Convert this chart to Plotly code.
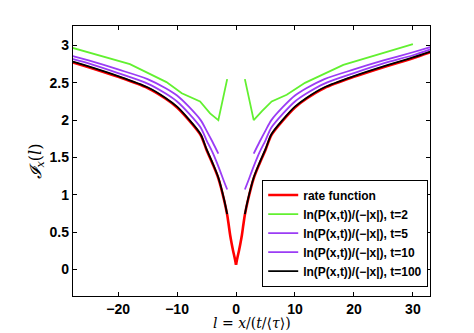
import plotly.graph_objects as go

# Rate function I(l); left and right branches meet in a cusp at l = 0
l_rate_left = [-33, -30, -25, -20, -15, -12, -10, -8, -6, -5, -4, -3, -2, -1.5, -1.25, -1.0, -0.75, -0.5, -0.25, 0]
i_rate_left = [2.91, 2.83, 2.71, 2.58, 2.43, 2.29, 2.17, 2.00, 1.80, 1.60, 1.42, 1.22, 0.92, 0.73, 0.60, 0.46, 0.35, 0.25, 0.16, 0.06]
l_rate_right = [0, 0.25, 0.5, 0.75, 1.0, 1.25, 1.5, 2, 3, 4, 5, 6, 8, 10, 12, 15, 20, 25, 30, 33]
i_rate_right = [0.06, 0.16, 0.25, 0.35, 0.46, 0.60, 0.73, 0.92, 1.22, 1.42, 1.60, 1.80, 2.00, 2.17, 2.29, 2.43, 2.58, 2.71, 2.83, 2.91]

# ln(P(x,t))/(-|x|) for t = 2 (left and right branches, gap at the origin)
l_t2 = [-30, -18, -11.8, -9.2, -6.1, -4.4, -3.0, -1.5, None, 1.5, 3.0, 4.4, 6.05, 8.6, 11.7, 18.2, 30]
i_t2 = [3.02, 2.75, 2.51, 2.36, 2.25, 2.09, 2.00, 2.55, None, 2.55, 2.00, 2.12, 2.25, 2.34, 2.50, 2.74, 3.02]

# t = 5
l_t5 = [-33, -30, -25, -20, -15, -12, -10, -8, -6, -5, -4, -3, None, 3, 4, 5, 6, 8, 10, 12, 15, 20, 25, 30, 33]
i_t5 = [2.98, 2.91, 2.80, 2.68, 2.55, 2.43, 2.33, 2.18, 2.00, 1.86, 1.71, 1.55, None,
        1.55, 1.71, 1.86, 2.00, 2.18, 2.33, 2.43, 2.55, 2.68, 2.80, 2.91, 2.98]

# t = 10
l_t10 = [-33, -30, -25, -20, -15, -12, -10, -8, -6, -5, -4, -3, -2, -1.5, None,
         1.5, 2, 3, 4, 5, 6, 8, 10, 12, 15, 20, 25, 30, 33]
i_t10 = [2.95, 2.87, 2.76, 2.63, 2.49, 2.36, 2.25, 2.09, 1.90, 1.73, 1.57, 1.38, 1.17, 1.07, None,
         1.07, 1.17, 1.38, 1.57, 1.73, 1.90, 2.09, 2.25, 2.36, 2.49, 2.63, 2.76, 2.87, 2.95]

# t = 100
l_t100 = [-33, -30, -25, -20, -15, -12, -10, -8, -6, -5, -4, -3, -2, -1.5, None,
          1.5, 2, 3, 4, 5, 6, 8, 10, 12, 15, 20, 25, 30, 33]
i_t100 = [2.92, 2.84, 2.72, 2.59, 2.44, 2.30, 2.18, 2.01, 1.81, 1.61, 1.43, 1.23, 0.93, 0.74, None,
          0.74, 0.93, 1.23, 1.43, 1.61, 1.81, 2.01, 2.18, 2.30, 2.44, 2.59, 2.72, 2.84, 2.92]

x_ticks = [-20, -10, 0, 10, 20, 30]
y_ticks = [0, 0.5, 1, 1.5, 2, 2.5, 3]

RED = "#ff0000"
GREEN = "#62f030"
PURPLE = "#9b3cf5"
BLACK = "#000000"

SMOOTH = dict(shape="spline", smoothing=0.8)

fig = go.Figure()
fig.add_trace(go.Scatter(x=l_rate_left, y=i_rate_left, mode="lines", name="rate function",
                         legendgroup="rate", line=dict(color=RED, width=2.6, **SMOOTH)))
fig.add_trace(go.Scatter(x=l_rate_right, y=i_rate_right, mode="lines", name="rate function",
                         legendgroup="rate", showlegend=False,
                         line=dict(color=RED, width=2.6, **SMOOTH)))
fig.add_trace(go.Scatter(x=l_t2, y=i_t2, mode="lines", name="ln(P(x,t))/(−|x|), t=2",
                         line=dict(color=GREEN, width=1.8), connectgaps=False))
fig.add_trace(go.Scatter(x=l_t5, y=i_t5, mode="lines", name="ln(P(x,t))/(−|x|), t=5",
                         line=dict(color=PURPLE, width=1.8, **SMOOTH), connectgaps=False))
fig.add_trace(go.Scatter(x=l_t10, y=i_t10, mode="lines", name="ln(P(x,t))/(−|x|), t=10",
                         line=dict(color=PURPLE, width=1.8, **SMOOTH), connectgaps=False))
fig.add_trace(go.Scatter(x=l_t100, y=i_t100, mode="lines", name="ln(P(x,t))/(−|x|), t=100",
                         line=dict(color=BLACK, width=1.8, **SMOOTH), connectgaps=False))

axis_common = dict(
    showgrid=False, zeroline=False, showline=True, linecolor="black", linewidth=1.3,
    mirror="allticks", ticks="inside", ticklen=4, tickcolor="black", tickwidth=1,
    tickfont=dict(family="Liberation Sans, Arial, sans-serif", size=14, color="black", weight="bold"),
)

fig.update_layout(
    width=474, height=333,
    margin=dict(l=73, r=44, t=26, b=37),
    paper_bgcolor="white", plot_bgcolor="white",
    showlegend=True,
    legend=dict(
        x=0.53, y=0.035, xanchor="left", yanchor="bottom",
        bgcolor="white", bordercolor="black", borderwidth=1,
        font=dict(family="Liberation Sans, Arial, sans-serif", size=12, color="black", weight="bold"),
        tracegroupgap=0, itemwidth=30,
    ),
    xaxis=dict(range=[-27.65, 32.9], tickvals=x_ticks,
               ticktext=[str(v).replace("-", "−") for v in x_ticks], **axis_common),
    yaxis=dict(range=[-0.358, 3.262], tickvals=y_ticks,
               ticktext=[f"{v:g}" for v in y_ticks], **axis_common),
)

# Axis titles, set in an italic serif face
fig.add_annotation(
    text="<i>l</i> = <i>x</i>/(<i>t</i>/⟨<i>τ</i>⟩)", xref="paper", yref="paper",
    x=0.5, y=-0.1, xanchor="center", yanchor="middle", showarrow=False,
    font=dict(family="DejaVu Serif, serif", size=14, color="black"),
)
fig.add_annotation(
    text="<i>𝓘</i><sub><i>x</i></sub>(<i>l</i>)", xref="paper", yref="paper",
    x=-0.105, y=0.50, xanchor="center", yanchor="middle", showarrow=False, textangle=-90,
    font=dict(family="DejaVu Serif, serif", size=16, color="black"),
)

fig.write_html("out.html")
